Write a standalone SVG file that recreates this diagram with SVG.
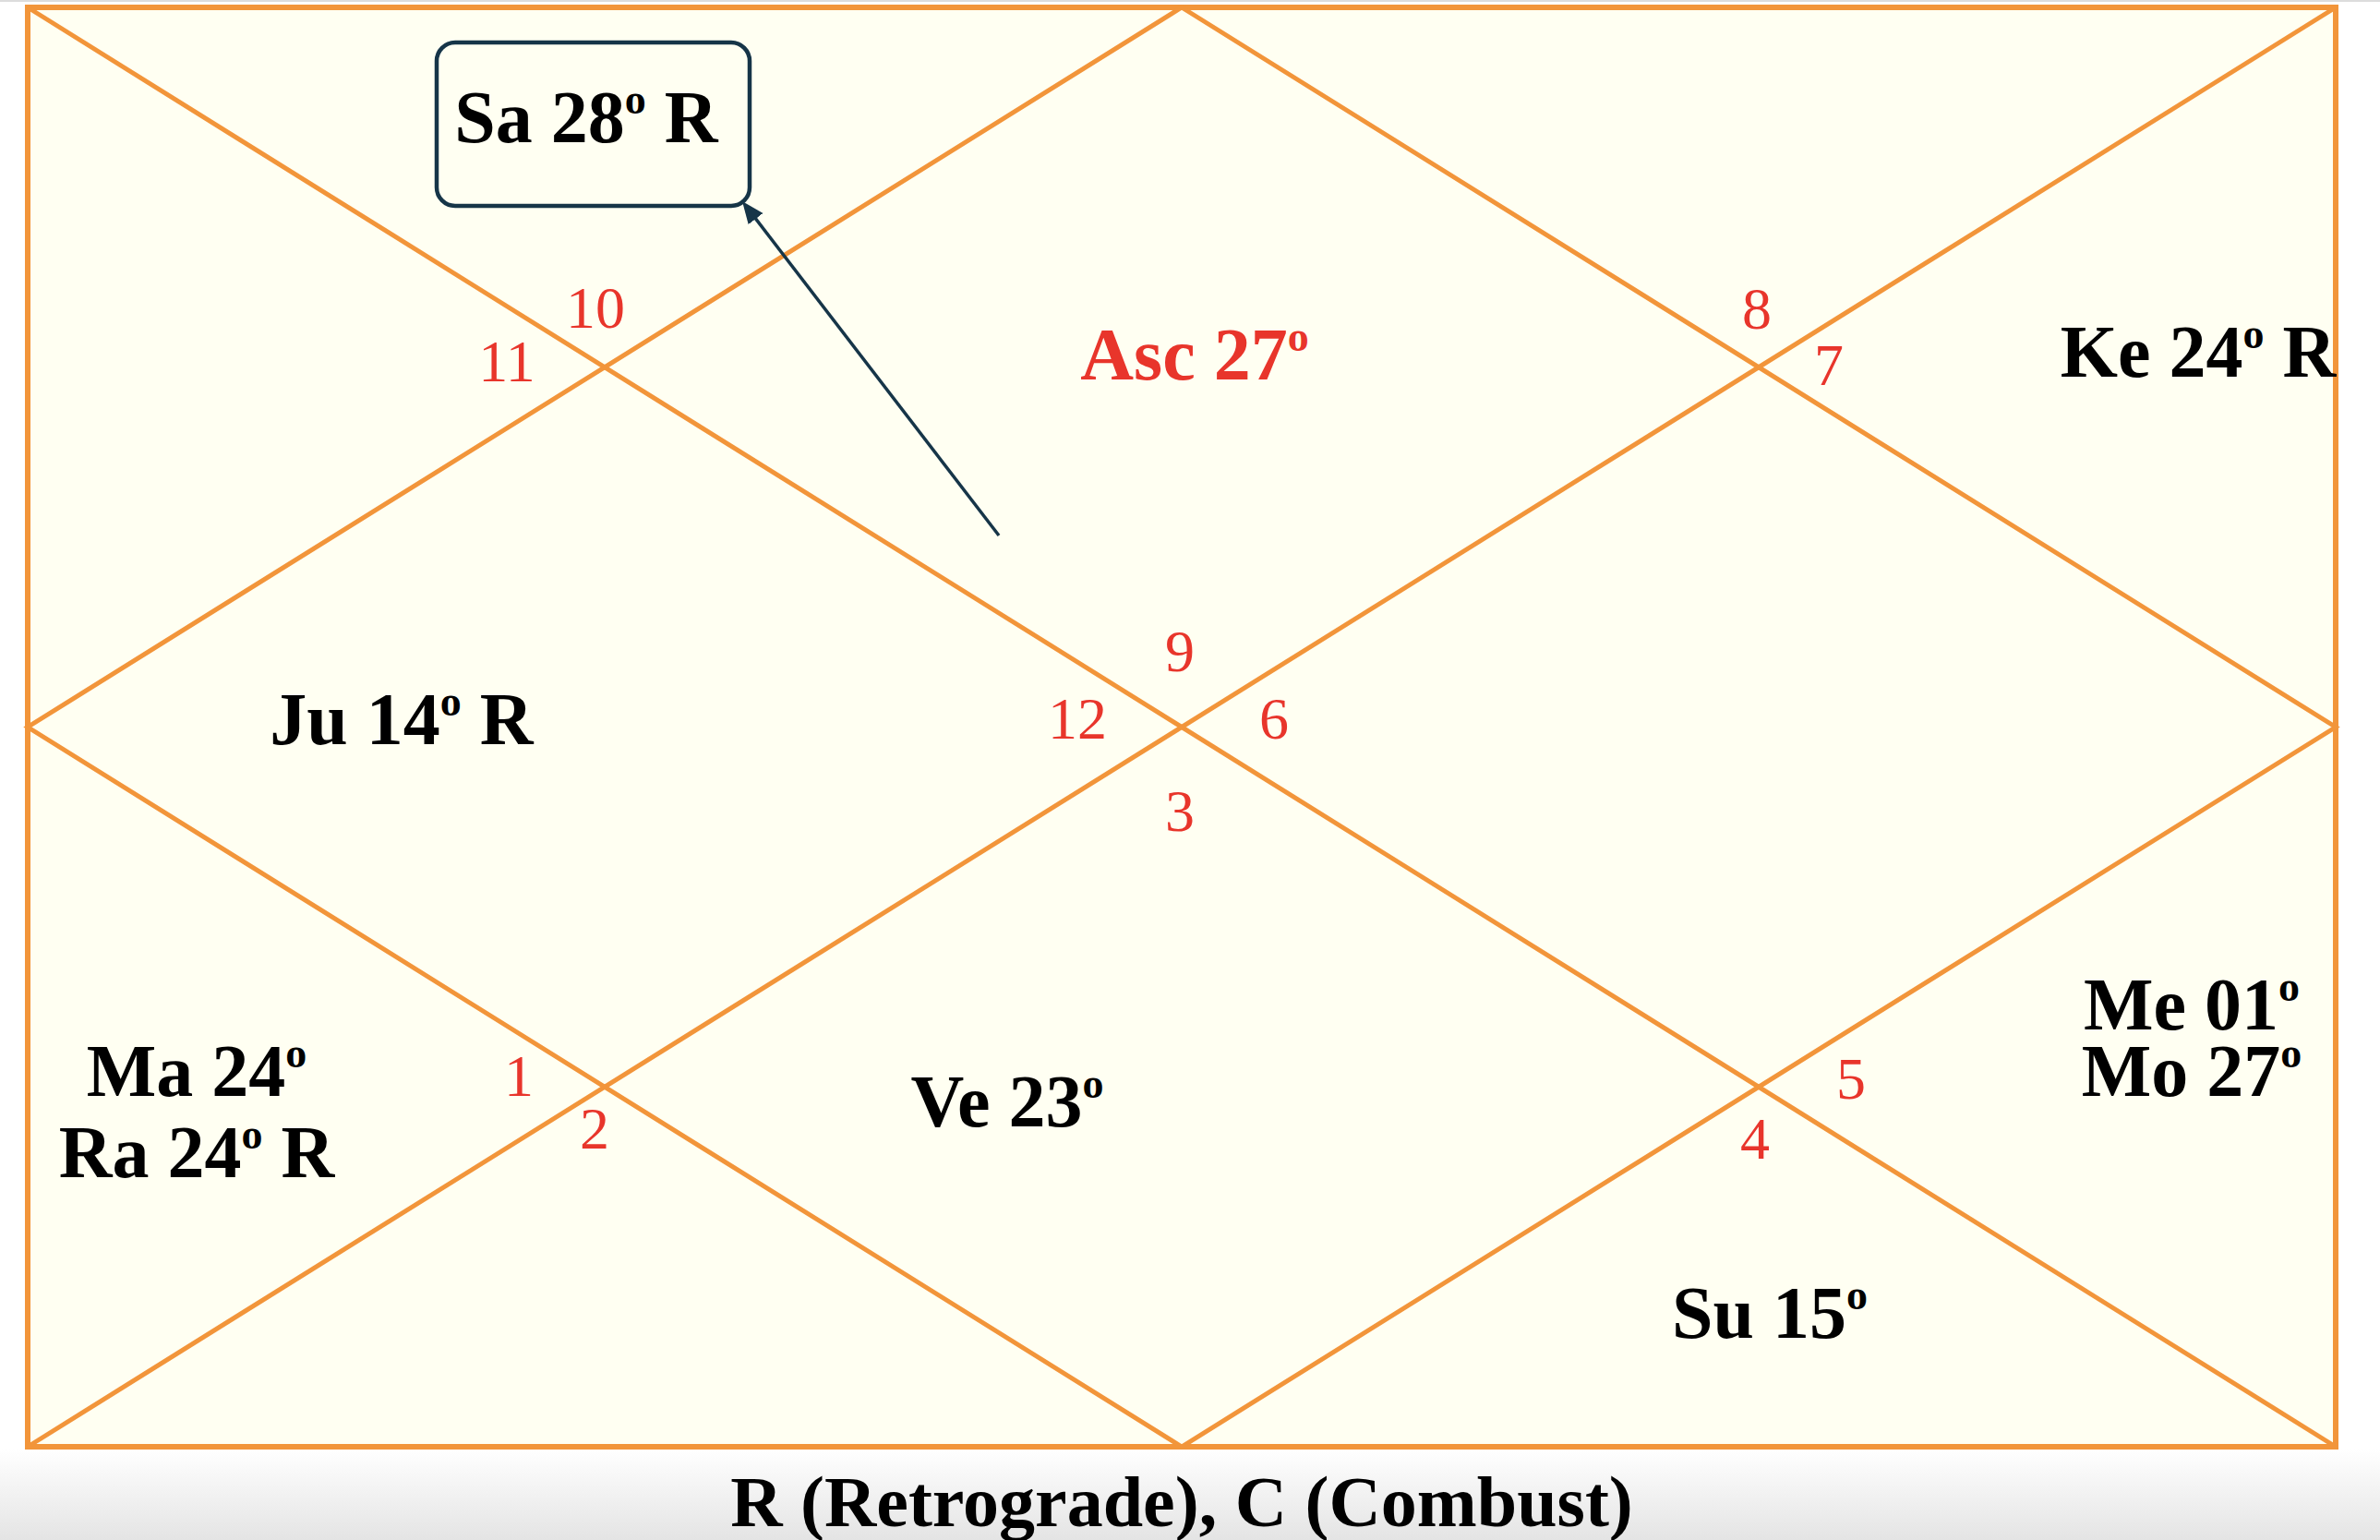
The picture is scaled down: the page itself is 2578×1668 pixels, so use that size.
<svg xmlns="http://www.w3.org/2000/svg" width="2578" height="1668" viewBox="0 0 2578 1668">
<defs>
<linearGradient id="bg" x1="0" y1="0" x2="0" y2="1" gradientUnits="objectBoundingBox">
<stop offset="0" stop-color="#ffffff"/>
<stop offset="1" stop-color="#e4e4e4"/>
</linearGradient>
<marker id="arrow" markerUnits="userSpaceOnUse" markerWidth="26" markerHeight="22" refX="2" refY="10" orient="auto" viewBox="0 0 26 22">
<path d="M0,0 L24,10 L0,20 z" fill="#163548"/>
</marker>
<style>
.frame{fill:#fffff2;stroke:#f2953a;stroke-width:6}
.ln{stroke:#f2953a;stroke-width:5;fill:none}
.pl{font-family:"Liberation Serif","Times New Roman",serif;font-weight:bold;font-size:80px;fill:#000;text-anchor:middle}
.asc{fill:#e8352b}
.num{font-family:"Liberation Serif","Times New Roman",serif;font-size:64px;fill:#e8352b;text-anchor:middle}
.sup{font-size:46px}
.box{fill:#fffff2;stroke:#163548;stroke-width:4.5}
.conn{stroke:#163548;stroke-width:3.5;fill:none}
.legend{font-size:78px}
</style>
</defs>
<rect x="0" y="0" width="2578" height="1668" fill="#ffffff"/>
<rect x="0" y="1570" width="2578" height="98" fill="url(#bg)"/>
<rect x="0" y="0" width="2578" height="2" fill="#dcdcdc"/>

<g id="chart">
<rect class="frame" x="30" y="8" width="2500" height="1559"/>
<line class="ln" x1="30" y1="8" x2="2530" y2="1567"/>
<line class="ln" x1="30" y1="1567" x2="2530" y2="8"/>
<path class="ln" d="M1280,8 L2530,787.5 L1280,1567 L30,787.5 Z"/>
</g>

<g id="house-numbers">
<text class="num" x="645" y="355">10</text>
<text class="num" x="549" y="413">11</text>
<text class="num" x="1903" y="356">8</text>
<text class="num" x="1981" y="417">7</text>
<text class="num" x="1278" y="727">9</text>
<text class="num" x="1167" y="800">12</text>
<text class="num" x="1380" y="800">6</text>
<text class="num" x="1278" y="900">3</text>
<text class="num" x="562" y="1187">1</text>
<text class="num" x="644" y="1244">2</text>
<text class="num" x="2005" y="1190">5</text>
<text class="num" x="1901" y="1255">4</text>
</g>

<g id="sa-node">
<rect class="box" x="473" y="46" width="339" height="177" rx="20" ry="20"/>
<text class="pl" x="635" y="154">Sa 28<tspan class="sup" dy="-31">o</tspan><tspan dy="31"> R</tspan></text>
</g>

<g id="asc-node">
<text class="pl asc" x="1294" y="411">Asc 27<tspan class="sup" dy="-31">o</tspan></text>
</g>

<g id="ke-node">
<text class="pl" x="2381" y="408">Ke 24<tspan class="sup" dy="-31">o</tspan><tspan dy="31"> R</tspan></text>
</g>

<g id="ju-node">
<text class="pl" x="435" y="806">Ju 14<tspan class="sup" dy="-31">o</tspan><tspan dy="31"> R</tspan></text>
</g>

<g id="ma-ra-node">
<text class="pl" x="213" y="1187">Ma 24<tspan class="sup" dy="-31">o</tspan><tspan x="213" dy="119">Ra 24</tspan><tspan class="sup" dy="-31">o</tspan><tspan dy="31"> R</tspan></text>
</g>

<g id="ve-node">
<text class="pl" x="1091" y="1220">Ve 23<tspan class="sup" dy="-31">o</tspan></text>
</g>

<g id="me-mo-node">
<text class="pl" x="2374" y="1115">Me 01<tspan class="sup" dy="-31">o</tspan><tspan x="2374" dy="103">Mo 27</tspan><tspan class="sup" dy="-31">o</tspan></text>
</g>

<g id="su-node">
<text class="pl" x="1917" y="1449">Su 15<tspan class="sup" dy="-31">o</tspan></text>
</g>

<g id="connectors">
<line class="conn" x1="1082" y1="580" x2="817.4" y2="235.4" marker-end="url(#arrow)"/>
</g>

<g id="legend">
<text class="pl legend" x="1280" y="1653">R (Retrograde), C (Combust)</text>
</g>
</svg>
